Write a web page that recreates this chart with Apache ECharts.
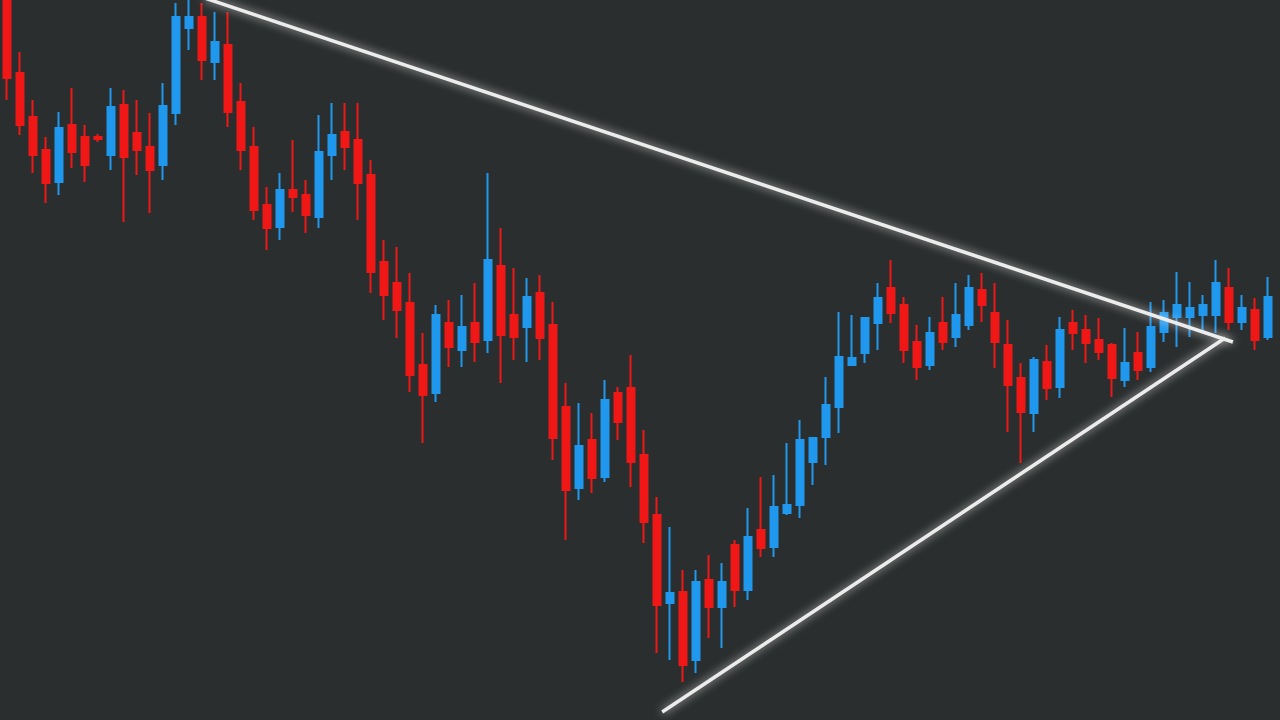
<!DOCTYPE html>
<html>
<head>
<meta charset="utf-8">
<script src="https://cdn.jsdelivr.net/npm/echarts@6/dist/echarts.min.js"></script>
<style>
html,body{margin:0;padding:0;background:#2b2e2f;}
#chart{width:1280px;height:720px;}
</style>
</head>
<body>
<div id="chart"></div>
<script>
// Candle values (price units, higher = up)
const categories = Array.from({length: 98}, (_, i) => String(i + 1));
const opens  = [725,647,603,570,538,595,583,583,565,615,587,573,555,607,692,703,658,675,618,573,515,
                493,530,525,503,565,588,580,545,458,437,417,355,327,397,370,397,380,454,405,393,
                427,395,313,232,280,243,327,332,265,205,117,128,60,140,113,175,130,190,173,207,
                215,258,283,313,355,367,397,432,415,378,355,397,383,395,430,407,375,342,307,358,
                333,397,390,380,375,340,367,353,388,403,403,405,405,432,398,410,383];
const closes = [642,595,565,537,592,568,555,581,613,563,570,550,614,703,703,660,678,608,570,510,492,
                530,523,505,568,585,573,537,448,425,410,345,325,405,373,393,378,460,385,383,423,
                382,282,230,274,242,320,298,258,198,115,127,55,138,113,138,130,183,172,213,215,
                280,282,315,363,362,402,422,407,370,353,387,378,405,432,415,378,335,308,360,332,
                390,387,377,368,342,357,350,393,407,415,412,415,437,398,412,380,423];
const lows   = [620,585,547,517,525,552,538,578,550,498,545,507,540,595,670,640,640,593,550,500,470,
                480,508,487,492,540,550,500,427,400,382,328,277,318,353,353,358,367,337,360,358,
                360,260,180,220,227,238,280,233,177,67,60,38,47,82,72,113,120,163,163,205,
                202,235,255,287,355,357,370,397,357,340,350,370,373,390,398,352,288,257,288,320,
                322,370,357,360,323,333,340,348,378,373,383,388,387,390,390,370,380];
const highs  = [730,668,620,583,608,632,595,586,632,630,620,607,637,717,722,717,708,708,637,593,533,
                547,580,540,605,617,617,617,560,480,473,447,387,415,420,425,437,547,492,452,442,
                445,418,337,317,307,340,333,365,290,223,193,150,150,165,157,180,212,243,245,277,
                300,283,343,408,405,403,437,460,423,395,403,423,437,445,447,437,400,357,363,375,
                403,410,405,402,377,392,388,418,420,448,438,425,460,452,425,422,443];

// Trend lines: [category position, value]
const upperTrend = [[15.2, 722], [94.3, 378]];
const lowerTrend = [[50.4, 8], [93.7, 382]];

const candleData = categories.map((_, i) => [opens[i], closes[i], lows[i], highs[i]]);

const chart = echarts.init(document.getElementById('chart'), null, {renderer: 'canvas'});
const N = categories.length;
chart.setOption({
  backgroundColor: '#2b2e2f',
  animation: false,
  grid: {left: 0.5, right: 5.5, top: 0, bottom: 0, containLabel: false},
  xAxis: [
    {type: 'category', data: categories, boundaryGap: true, show: false},
    {type: 'value', min: -0.5, max: N - 0.5, show: false}
  ],
  yAxis: {type: 'value', min: 0, max: 720, show: false, splitLine: {show: false}},
  series: [
    {
      type: 'candlestick',
      data: candleData,
      barWidth: 8,
      clip: true,
      itemStyle: {
        color: '#1f98ee', color0: '#f01717',
        borderColor: '#1f98ee', borderColor0: '#f01717',
        borderWidth: 2
      }
    },
    {
      type: 'line', xAxisIndex: 1, data: upperTrend, symbol: 'none', clip: false,
      lineStyle: {color: '#ececec', width: 3.5, shadowBlur: 10, shadowColor: 'rgba(255,255,255,0.75)'},
      z: 5
    },
    {
      type: 'line', xAxisIndex: 1, data: lowerTrend, symbol: 'none', clip: false,
      lineStyle: {color: '#ececec', width: 3.5, shadowBlur: 10, shadowColor: 'rgba(255,255,255,0.75)'},
      z: 5
    }
  ]
});
</script>
</body>
</html>
